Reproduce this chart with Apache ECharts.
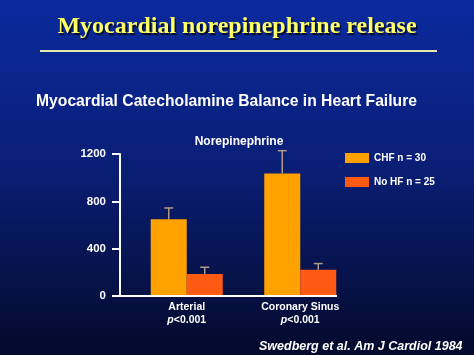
<!DOCTYPE html>
<html>
<head>
<meta charset="utf-8">
<script src="https://cdn.jsdelivr.net/npm/echarts@6/dist/echarts.min.js"></script>
<style>
html,body{margin:0;padding:0;}
#c{width:474px;height:355px;}
</style>
</head>
<body>
<div id="c"></div>
<script>
const categories = ['Arterial', 'Coronary Sinus'];
const pValues = ['<0.001', '<0.001'];
const seriesNames = ['CHF n = 30', 'No HF n = 25'];
const chfValues = [648, 1035];
const noHfValues = [185, 222];
const chfErrTop = [744, 1228];
const noHfErrTop = [243, 274];
const yTicks = [0, 400, 800, 1200];

const chart = echarts.init(document.getElementById('c'));

const BAR_W = 36;
function errItem(offset) {
  return function (params, api) {
    const i = api.value(0);
    const base = api.coord([i, api.value(1)]);
    const top = api.coord([i, api.value(2)]);
    const x = base[0] + offset;
    const style = { stroke: '#b09a86', lineWidth: 1.5 };
    return {
      type: 'group',
      children: [
        { type: 'line', shape: { x1: x, y1: base[1], x2: x, y2: top[1] }, style: style },
        { type: 'line', shape: { x1: x - 4.5, y1: top[1], x2: x + 4.5, y2: top[1] }, style: style }
      ]
    };
  };
}

const option = {
  backgroundColor: {
    type: 'linear', x: 0, y: 0, x2: 0, y2: 1,
    colorStops: [
      { offset: 0, color: '#0b2a9e' },
      { offset: 0.45, color: '#0a1f78' },
      { offset: 1, color: '#040a2c' }
    ]
  },
  title: [
    {
      text: 'Myocardial norepinephrine release',
      left: 'center', top: 10,
      textStyle: {
        fontFamily: 'Liberation Serif', fontWeight: 'bold', fontSize: 24, color: '#ffff66',
        textShadowColor: 'rgba(0,0,0,0.8)', textShadowOffsetX: 1.5, textShadowOffsetY: 1.5, textShadowBlur: 1
      }
    },
    {
      text: 'Myocardial Catecholamine Balance in Heart Failure',
      left: 31, top: 89,
      textStyle: { fontFamily: 'Liberation Sans', fontWeight: 'bold', fontSize: 15.7, color: '#ffffff' }
    },
    {
      text: 'Norepinephrine',
      left: 234, top: 131, textAlign: 'center',
      textStyle: { fontFamily: 'Liberation Sans', fontWeight: 'bold', fontSize: 12, color: '#ffffff' }
    },
    {
      text: 'Swedberg et al. Am J Cardiol 1984',
      left: 254, top: 335,
      textStyle: { fontFamily: 'Liberation Sans', fontWeight: 'bold', fontStyle: 'italic', fontSize: 12.5, color: '#ffffff' }
    }
  ],
  graphic: [
    { type: 'rect', shape: { x: 40, y: 50, width: 397, height: 2 }, style: { fill: '#e6e6b0' } },
    { type: 'rect', shape: { x: 119, y: 295, width: 218, height: 2 }, style: { fill: '#ffffff' }, z: 10 }
  ],
  legend: {
    orient: 'vertical', left: 340, top: 148,
    itemWidth: 24, itemHeight: 10, itemGap: 14,
    icon: 'rect',
    data: seriesNames,
    textStyle: { color: '#ffffff', fontFamily: 'Liberation Sans', fontWeight: 'bold', fontSize: 10 }
  },
  grid: { left: 130, top: 154, width: 227, height: 142 },
  xAxis: {
    type: 'category', data: categories,
    axisLine: { show: false },
    axisTick: { show: false },
    axisLabel: {
      margin: 5, interval: 0,
      formatter: function (v, i) { return '{b|' + v + '}\n{i|p}{b|' + pValues[i] + '}'; },
      rich: {
        b: { color: '#ffffff', fontFamily: 'Liberation Sans', fontWeight: 'bold', fontSize: 10.5, lineHeight: 13 },
        i: { color: '#ffffff', fontFamily: 'Liberation Sans', fontWeight: 'bold', fontStyle: 'italic', fontSize: 10.5, lineHeight: 13 }
      }
    }
  },
  yAxis: {
    type: 'value', min: 0, max: 1200, interval: 400,
    offset: 10,
    splitLine: { show: false },
    axisLine: { show: true, lineStyle: { color: '#ffffff', width: 2 } },
    axisTick: { show: true, inside: false, length: 8, lineStyle: { color: '#ffffff', width: 2 } },
    axisLabel: {
      margin: 14, color: '#ffffff', fontFamily: 'Liberation Sans', fontWeight: 'bold', fontSize: 11.5,
      formatter: function (v) { return yTicks.indexOf(v) >= 0 ? String(v) : ''; }
    }
  },
  series: [
    {
      name: seriesNames[0], type: 'bar', data: chfValues,
      barWidth: BAR_W, barGap: '0%', itemStyle: { color: '#ffa200' }
    },
    {
      name: seriesNames[1], type: 'bar', data: noHfValues,
      barWidth: BAR_W, barGap: '0%', itemStyle: { color: '#ff5a14' }
    },
    {
      type: 'custom', name: 'errChf',
      data: categories.map((c, i) => [i, chfValues[i], chfErrTop[i]]),
      renderItem: errItem(-BAR_W / 2), z: 5
    },
    {
      type: 'custom', name: 'errNoHf',
      data: categories.map((c, i) => [i, noHfValues[i], noHfErrTop[i]]),
      renderItem: errItem(BAR_W / 2), z: 5
    }
  ]
};
chart.setOption(option);
</script>
</body>
</html>
